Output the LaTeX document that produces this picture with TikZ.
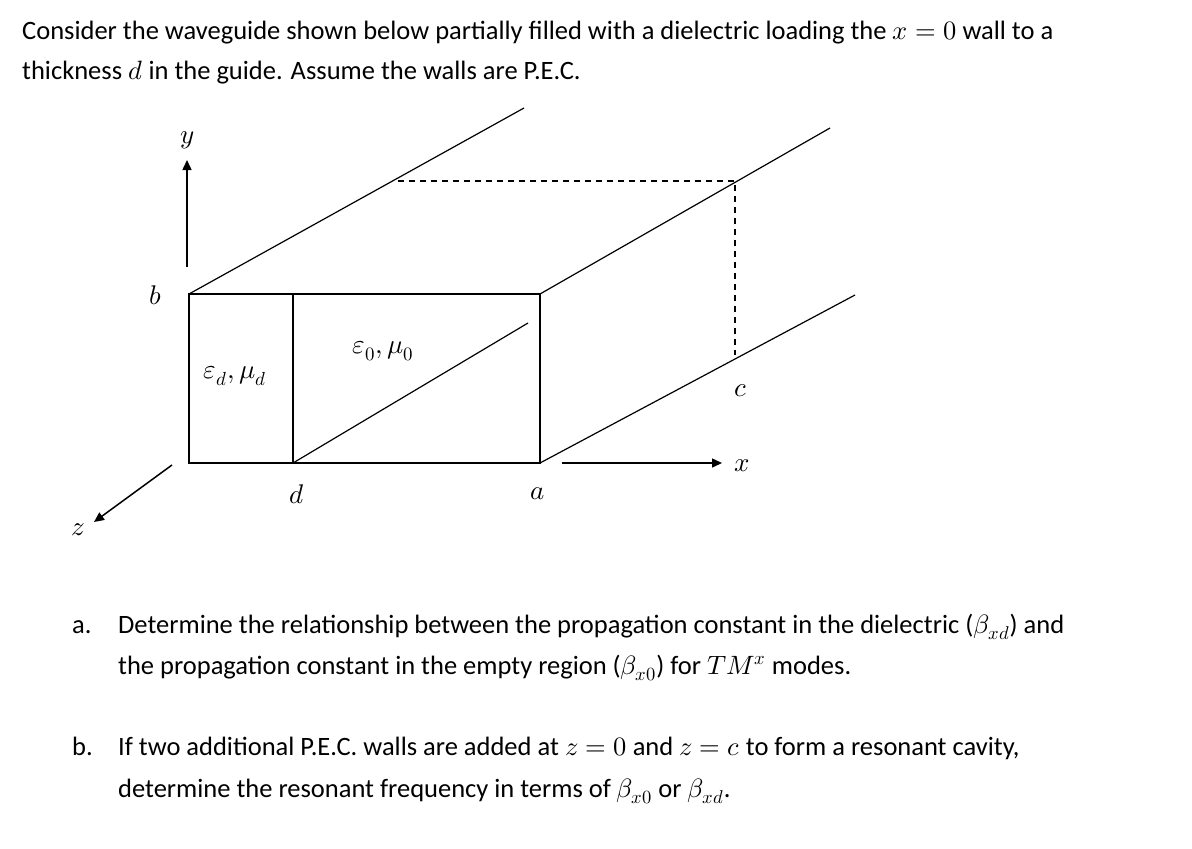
\documentclass[tikz,border=0pt]{standalone}
\usetikzlibrary{arrows.meta}
\usepackage{fontspec}
\setmainfont{Carlito}
\usepackage{unicode-math}
\setmathfont{Latin Modern Math}
\begin{document}
\begin{tikzpicture}[x=1pt,y=-1pt,
  txt/.style={anchor=base west,inner sep=0pt,font=\fontsize{26.5}{30}\selectfont},
  lbl/.style={inner sep=0pt,font=\fontsize{27}{30}\selectfont},
  wall/.style={line width=1.2pt},
  ax/.style={line width=1.5pt,-{Triangle[length=10pt,width=9pt]}}]
\useasboundingbox (0,0) rectangle (1192,849);
% text
\node[txt] (t1) at (22,39) {Consider the waveguide shown below partially filled with a dielectric loading the $x=0$ wall to a};
\node[txt] (t2) at (22,79) {thickness $d$ in the guide. Assume the walls are P.E.C.};
\node[txt] (a1) at (72,633) {a.};
\node[txt] (a2) at (118,633) {Determine the relationship between the propagation constant in the dielectric ($\beta_{xd}$) and};
\node[txt] (a3) at (118,674) {the propagation constant in the empty region ($\beta_{x0}$) for $TM^{x}$ modes.};
\node[txt] (b1) at (72,755) {b.};
\node[txt] (b2) at (118,755) {If two additional P.E.C. walls are added at $z=0$ and $z=c$ to form a resonant cavity,};
\node[txt] (b3) at (118,797) {determine the resonant frequency in terms of $\beta_{x0}$ or $\beta_{xd}$.};
% guide
\coordinate (A) at (189,294); \coordinate (B) at (540,294);
\coordinate (C) at (540,463); \coordinate (D) at (189,463);
\coordinate (E) at (293,294); \coordinate (F) at (293,463);
\draw[wall] (A) rectangle (C);
\draw[wall] (E) -- (F);
\draw[wall] (F) -- (528,323);
\draw[wall] (A) -- (524,108);
\draw[wall] (B) -- (830,128);
\draw[wall] (C) -- (855,295);
\draw[wall,dash pattern=on 6pt off 5pt] (398,181) -- (735,181) -- (735,355);
% axes
\draw[ax] (187,267) -- (187,160);
\draw[ax] (562,463) -- (722,463);
\draw[ax] (172,465) -- (94,522);
\node[lbl] (ly) at (187,140) {$y$};
\node[lbl] (lx) at (742,466) {$x$};
\node[lbl] (lz) at (78,530) {$z$};
\node[lbl] (lb) at (155,295) {$b$};
\node[lbl] (ld) at (297,494) {$d$};
\node[lbl] (la) at (538,494) {$a$};
\node[lbl] (lc) at (741,391) {$c$};
\node[lbl] (ed) at (235,376) {$\varepsilon_d,\mu_d$};
\node[lbl] (e0) at (383,351) {$\varepsilon_0,\mu_0$};
\end{tikzpicture}
\end{document}
